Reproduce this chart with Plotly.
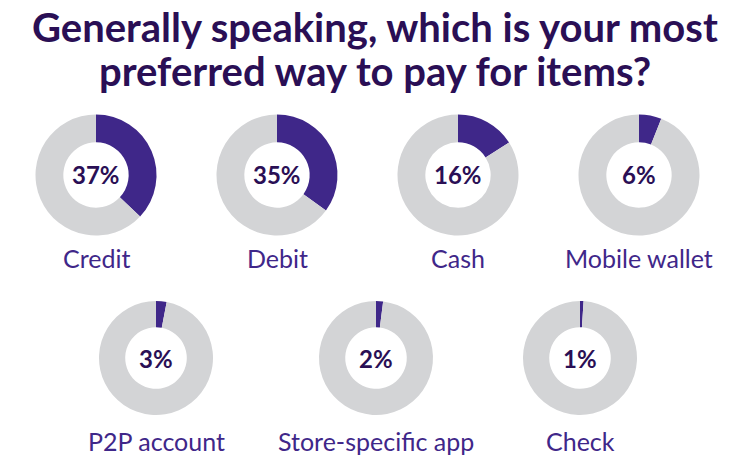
import plotly.graph_objects as go

# survey answers
methods = ["Credit", "Debit", "Cash", "Mobile wallet",
           "P2P account", "Store-specific app", "Check"]
shares = [37, 35, 16, 6, 3, 2, 1]

title_lines = ["Generally speaking, which is your most",
               "preferred way to pay for items?"]

W, H = 750, 471
purple = "#3f2789"
grey = "#d3d4d6"
dark = "#2a0f55"

# donut centres (px) and diameters, row by row
centres = [(96, 175), (277, 175), (458, 175), (639, 175),
           (156, 358), (376, 358), (580, 358)]
sizes = [121, 121, 121, 121, 114, 114, 114]
label_gap = 83


def px(x, y):
    # pixel -> paper coords
    return x / W, 1 - y / H


fig = go.Figure()
annotations = []

for name, pct, (cx, cy), d in zip(methods, shares, centres, sizes):
    r = d / 2
    x0, y1 = px(cx - r, cy - r)
    x1, y0 = px(cx + r, cy + r)
    fig.add_trace(go.Pie(
        values=[pct, 100 - pct],
        labels=[name, "other"],
        sort=False,
        direction="clockwise",
        rotation=0,
        hole=0.54,
        textinfo="none",
        hoverinfo="skip",
        showlegend=False,
        marker=dict(colors=[purple, grey], line=dict(width=0)),
        domain=dict(x=[x0, x1], y=[y0, y1]),
    ))
    # percentage in the hole
    ax, ay = px(cx, cy)
    annotations.append(dict(
        x=ax, y=ay, xref="paper", yref="paper",
        text="<b>%d%%</b>" % pct, showarrow=False,
        font=dict(family="Lato", size=24, color=dark),
        xanchor="center", yanchor="middle",
    ))
    # name under the donut
    lx, ly = px(cx, cy + label_gap)
    annotations.append(dict(
        x=lx, y=ly, xref="paper", yref="paper",
        text=name, showarrow=False,
        font=dict(family="Lato", size=25, color=purple),
        xanchor="center", yanchor="middle",
    ))

for line, ty in zip(title_lines, [27, 71]):
    tx, tyy = px(375, ty)
    annotations.append(dict(
        x=tx, y=tyy, xref="paper", yref="paper",
        text="<b>" + line + "</b>", showarrow=False,
        font=dict(family="Lato", size=40, color=dark),
        xanchor="center", yanchor="middle",
    ))

fig.update_layout(
    width=W, height=H,
    margin=dict(l=0, r=0, t=0, b=0),
    paper_bgcolor="white",
    plot_bgcolor="white",
    annotations=annotations,
)

# drop the default 8px page margin so the figure fills the window
fig.write_html("out.html", config={"displayModeBar": False},
               post_script="document.body.style.margin = '0';")
